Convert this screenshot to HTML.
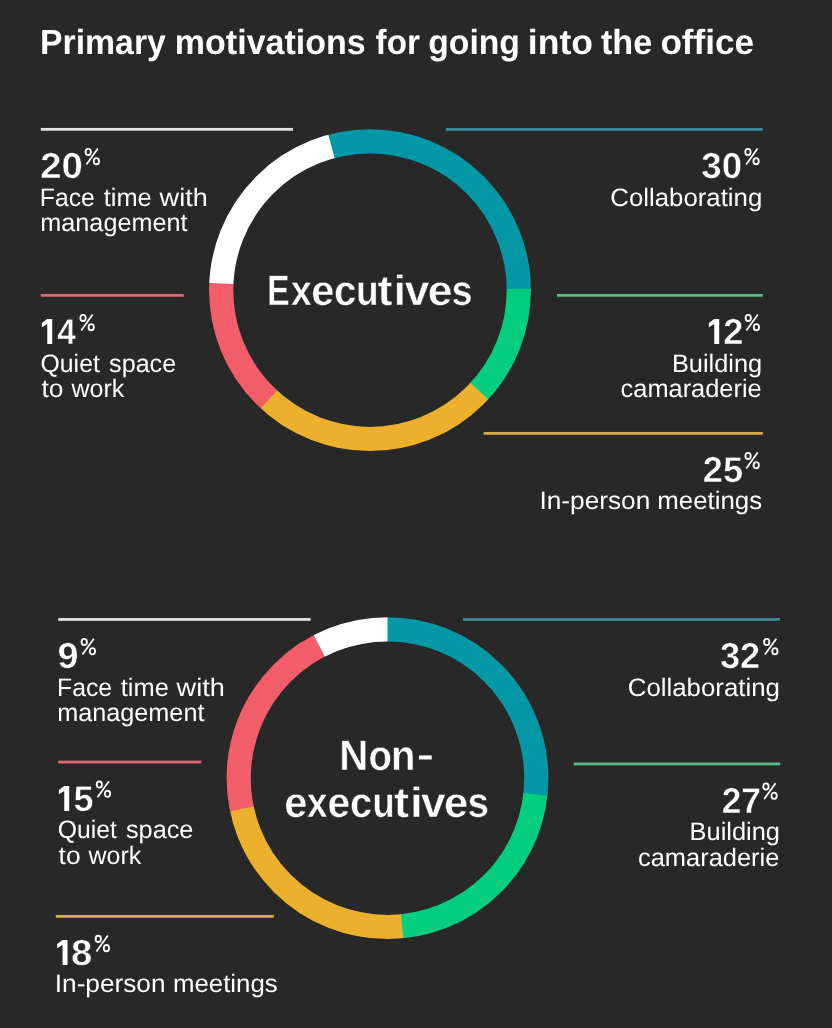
<!DOCTYPE html>
<html><head><meta charset="utf-8"><title>Primary motivations for going into the office</title>
<style>
html,body{margin:0;padding:0;background:#282828;width:832px;height:1028px;overflow:hidden}
svg{display:block}
text{font-family:"Liberation Sans",sans-serif;fill:#fff;text-rendering:geometricPrecision}
</style></head>
<body>
<svg style="will-change:transform;filter:blur(.35px)" width="832" height="1028" viewBox="0 0 832 1028">
<rect width="832" height="1028" fill="#282828"/>
<mask id="ring1" maskUnits="userSpaceOnUse" x="205.1" y="125.3" width="329.8" height="329.8"><circle cx="370" cy="290.2" r="148.80" fill="none" stroke="#fff" stroke-width="24.20"/></mask>
<g mask="url(#ring1)">
<circle cx="370" cy="290.2" r="163.9" fill="#FFFFFF"/>
<path d="M370 290.2L259.69 411.43A163.9 163.9 0 0 1 206.27 282.77Z" fill="#F15E6A"/>
<path d="M370 290.2L491.42 400.30A163.9 163.9 0 0 1 258.64 410.46Z" fill="#ECB02C"/>
<path d="M370 290.2L533.88 287.34A163.9 163.9 0 0 1 490.45 401.35Z" fill="#04CE7E"/>
<path d="M370 290.2L327.58 131.88A163.9 163.9 0 0 1 533.89 288.77Z" fill="#0498A6"/>
</g>
<mask id="ring2" maskUnits="userSpaceOnUse" x="222.6" y="613.3" width="329.8" height="329.8"><circle cx="387.5" cy="778.2" r="148.80" fill="none" stroke="#fff" stroke-width="24.20"/></mask>
<g mask="url(#ring2)">
<circle cx="387.5" cy="778.2" r="163.9" fill="#FFFFFF"/>
<path d="M387.5 778.2L227.42 813.40A163.9 163.9 0 0 1 312.45 632.49Z" fill="#F15E6A"/>
<path d="M387.5 778.2L405.06 941.16A163.9 163.9 0 0 1 227.12 812.00Z" fill="#ECB02C"/>
<path d="M387.5 778.2L550.59 794.48A163.9 163.9 0 0 1 403.64 941.30Z" fill="#04CE7E"/>
<path d="M387.5 778.2L387.50 614.30A163.9 163.9 0 0 1 550.44 795.90Z" fill="#0498A6"/>
</g>
<rect x="40.8" y="127.95" width="252.20" height="2.8" fill="#E2E2E2"/>
<rect x="40.8" y="293.95" width="143.00" height="2.8" fill="#DE686E"/>
<rect x="446" y="127.95" width="316.80" height="2.8" fill="#408A96"/>
<rect x="557" y="293.95" width="205.80" height="2.8" fill="#5AC080"/>
<rect x="483.6" y="431.95" width="279.20" height="2.8" fill="#D8AC4A"/>
<rect x="58.2" y="618.05" width="252.40" height="2.8" fill="#E2E2E2"/>
<rect x="58.2" y="760.65" width="143.10" height="2.8" fill="#DE686E"/>
<rect x="55.8" y="914.95" width="218.00" height="2.8" fill="#D8AC4A"/>
<rect x="463" y="618.05" width="317.00" height="2.8" fill="#408A96"/>
<rect x="573.8" y="762.55" width="206.40" height="2.8" fill="#5AC080"/>
<text y="54" font-size="35.0" font-weight="700"><tspan x="40.02" textLength="125.82" lengthAdjust="spacingAndGlyphs">Primary</tspan> <tspan x="174.87" textLength="190.82" lengthAdjust="spacingAndGlyphs">motivations</tspan> <tspan x="375.6" textLength="44.32" lengthAdjust="spacingAndGlyphs">for</tspan> <tspan x="428.22" textLength="91.71" lengthAdjust="spacingAndGlyphs">going</tspan> <tspan x="527.81" textLength="65.12" lengthAdjust="spacingAndGlyphs">into</tspan> <tspan x="600.91" textLength="51.34" lengthAdjust="spacingAndGlyphs">the</tspan> <tspan x="660.4" textLength="93.7" lengthAdjust="spacingAndGlyphs">office</tspan></text>
<text y="305" font-size="42.5" font-weight="700" stroke="#282828" stroke-width=".5"><tspan x="266.91" textLength="22.72" lengthAdjust="spacingAndGlyphs">E</tspan><tspan x="291.03" textLength="20.69" lengthAdjust="spacingAndGlyphs">x</tspan><tspan x="311.25" textLength="23.07" lengthAdjust="spacingAndGlyphs">e</tspan><tspan x="333.91" textLength="22.3" lengthAdjust="spacingAndGlyphs">c</tspan><tspan x="355.96" textLength="22.63" lengthAdjust="spacingAndGlyphs">u</tspan><tspan x="377.48" textLength="15.03" lengthAdjust="spacingAndGlyphs">t</tspan><tspan x="393.89" textLength="12.23" lengthAdjust="spacingAndGlyphs">i</tspan><tspan x="404.75" textLength="24.58" lengthAdjust="spacingAndGlyphs">v</tspan><tspan x="427.84" textLength="24.74" lengthAdjust="spacingAndGlyphs">e</tspan><tspan x="451.54" textLength="21.06" lengthAdjust="spacingAndGlyphs">s</tspan></text>
<text y="770" font-size="42.5" font-weight="700" stroke="#282828" stroke-width=".5"><tspan x="339.36" textLength="29.09" lengthAdjust="spacingAndGlyphs">N</tspan><tspan x="368.42" textLength="23.44" lengthAdjust="spacingAndGlyphs">o</tspan><tspan x="390.92" textLength="24.46" lengthAdjust="spacingAndGlyphs">n</tspan><tspan x="416.99" textLength="16.69" lengthAdjust="spacingAndGlyphs" y="766" font-size="33" stroke="none">-</tspan></text>
<text y="817" font-size="42.5" font-weight="700" stroke="#282828" stroke-width=".5"><tspan x="284.22" textLength="23.17" lengthAdjust="spacingAndGlyphs">e</tspan><tspan x="307.03" textLength="20.48" lengthAdjust="spacingAndGlyphs">x</tspan><tspan x="327.4" textLength="22.63" lengthAdjust="spacingAndGlyphs">e</tspan><tspan x="349.93" textLength="22.1" lengthAdjust="spacingAndGlyphs">c</tspan><tspan x="372.44" textLength="22.15" lengthAdjust="spacingAndGlyphs">u</tspan><tspan x="393.81" textLength="15.25" lengthAdjust="spacingAndGlyphs">t</tspan><tspan x="410.07" textLength="12.78" lengthAdjust="spacingAndGlyphs">i</tspan><tspan x="421.09" textLength="24.55" lengthAdjust="spacingAndGlyphs">v</tspan><tspan x="444.08" textLength="24.32" lengthAdjust="spacingAndGlyphs">e</tspan><tspan x="467.6" textLength="21.55" lengthAdjust="spacingAndGlyphs">s</tspan></text>
<text x="40.2" y="178" font-size="36.0" font-weight="700" textLength="42.71" lengthAdjust="spacingAndGlyphs" stroke="#282828" stroke-width=".5">20</text>
<text y="206" font-size="25.2" font-weight="400"><tspan x="39.79" textLength="55.04" lengthAdjust="spacingAndGlyphs">Face</tspan> <tspan x="103.78" textLength="47.99" lengthAdjust="spacingAndGlyphs">time</tspan> <tspan x="159.64" textLength="48.07" lengthAdjust="spacingAndGlyphs">with</tspan></text>
<text x="40.31" y="231" font-size="25.2" font-weight="400" textLength="147.22" lengthAdjust="spacingAndGlyphs">management</text>
<text x="57.28" y="344" font-size="36.0" font-weight="700" textLength="18.67" lengthAdjust="spacingAndGlyphs" stroke="#282828" stroke-width=".5">4</text>
<text y="372" font-size="25.2" font-weight="400"><tspan x="40.57" textLength="59.24" lengthAdjust="spacingAndGlyphs">Quiet</tspan> <tspan x="109.08" textLength="67.08" lengthAdjust="spacingAndGlyphs">space</tspan></text>
<text y="397" font-size="25.2" font-weight="400"><tspan x="41.4" textLength="22.06" lengthAdjust="spacingAndGlyphs">to</tspan> <tspan x="71.49" textLength="52.81" lengthAdjust="spacingAndGlyphs">work</tspan></text>
<text x="701.37" y="178" font-size="36.0" font-weight="700" textLength="40.79" lengthAdjust="spacingAndGlyphs" stroke="#282828" stroke-width=".5">30</text>
<text x="610.33" y="206" font-size="25.2" font-weight="400" textLength="151.92" lengthAdjust="spacingAndGlyphs">Collaborating</text>
<text x="723.15" y="344" font-size="36.0" font-weight="700" textLength="20.2" lengthAdjust="spacingAndGlyphs" stroke="#282828" stroke-width=".5">2</text>
<text x="671.96" y="372" font-size="25.2" font-weight="400" textLength="90.19" lengthAdjust="spacingAndGlyphs">Building</text>
<text x="620.57" y="397" font-size="25.2" font-weight="400" textLength="141.12" lengthAdjust="spacingAndGlyphs">camaraderie</text>
<text x="702.74" y="482" font-size="36.0" font-weight="700" textLength="40.31" lengthAdjust="spacingAndGlyphs" stroke="#282828" stroke-width=".5">25</text>
<text y="509" font-size="25.2" font-weight="400"><tspan x="539.42" textLength="110.9" lengthAdjust="spacingAndGlyphs">In-person</tspan> <tspan x="657.37" textLength="104.78" lengthAdjust="spacingAndGlyphs">meetings</tspan></text>
<text x="57.55" y="668" font-size="36.0" font-weight="700" textLength="21.07" lengthAdjust="spacingAndGlyphs" stroke="#282828" stroke-width=".5">9</text>
<text y="696" font-size="25.2" font-weight="400"><tspan x="57.04" textLength="55.01" lengthAdjust="spacingAndGlyphs">Face</tspan> <tspan x="120.75" textLength="48.04" lengthAdjust="spacingAndGlyphs">time</tspan> <tspan x="176.59" textLength="48.25" lengthAdjust="spacingAndGlyphs">with</tspan></text>
<text x="57.27" y="721" font-size="25.2" font-weight="400" textLength="147.16" lengthAdjust="spacingAndGlyphs">management</text>
<text x="73.63" y="811" font-size="36.0" font-weight="700" textLength="20.1" lengthAdjust="spacingAndGlyphs" stroke="#282828" stroke-width=".5">5</text>
<text y="838" font-size="25.2" font-weight="400"><tspan x="57.82" textLength="59.11" lengthAdjust="spacingAndGlyphs">Quiet</tspan> <tspan x="125.96" textLength="67.4" lengthAdjust="spacingAndGlyphs">space</tspan></text>
<text y="864" font-size="25.2" font-weight="400"><tspan x="58.6" textLength="22.06" lengthAdjust="spacingAndGlyphs">to</tspan> <tspan x="88.46" textLength="52.79" lengthAdjust="spacingAndGlyphs">work</tspan></text>
<text x="71.02" y="965" font-size="36.0" font-weight="700" textLength="21.36" lengthAdjust="spacingAndGlyphs" stroke="#282828" stroke-width=".5">8</text>
<text y="992" font-size="25.2" font-weight="400"><tspan x="54.77" textLength="110.79" lengthAdjust="spacingAndGlyphs">In-person</tspan> <tspan x="172.92" textLength="104.79" lengthAdjust="spacingAndGlyphs">meetings</tspan></text>
<text x="719.93" y="668" font-size="36.0" font-weight="700" textLength="40.34" lengthAdjust="spacingAndGlyphs" stroke="#282828" stroke-width=".5">32</text>
<text x="627.79" y="696" font-size="25.2" font-weight="400" textLength="152.12" lengthAdjust="spacingAndGlyphs">Collaborating</text>
<text x="721.69" y="813" font-size="36.0" font-weight="700" textLength="39.31" lengthAdjust="spacingAndGlyphs" stroke="#282828" stroke-width=".5">27</text>
<text x="689.6" y="840" font-size="25.2" font-weight="400" textLength="90.3" lengthAdjust="spacingAndGlyphs">Building</text>
<text x="638.0" y="866" font-size="25.2" font-weight="400" textLength="141.31" lengthAdjust="spacingAndGlyphs">camaraderie</text>
<text x="84.65" y="165.25" font-size="24" fill="none" style="fill:none">%</text>
<g transform="translate(84.65 147.85)" fill="none" stroke="#fff" stroke-width="1.85"><ellipse cx="3.6" cy="4.05" rx="2.65" ry="3.1"/><ellipse cx="11.75" cy="13.3" rx="2.65" ry="3.1"/><path d="M13.2 .7L1.8 16.6" stroke-width="1.75"/></g>
<text x="41.80" y="344" font-size="36" font-weight="700" fill="none" style="fill:none">1</text>
<path fill="#fff" d="M52.2 344V319.0H47.25L41.85 322.90V327.30L47.25 324.00V344Z"/>
<text x="79.45" y="331.25" font-size="24" fill="none" style="fill:none">%</text>
<g transform="translate(79.45 313.85)" fill="none" stroke="#fff" stroke-width="1.85"><ellipse cx="3.6" cy="4.05" rx="2.65" ry="3.1"/><ellipse cx="11.75" cy="13.3" rx="2.65" ry="3.1"/><path d="M13.2 .7L1.8 16.6" stroke-width="1.75"/></g>
<text x="744.35" y="165.25" font-size="24" fill="none" style="fill:none">%</text>
<g transform="translate(744.35 147.85)" fill="none" stroke="#fff" stroke-width="1.85"><ellipse cx="3.6" cy="4.05" rx="2.65" ry="3.1"/><ellipse cx="11.75" cy="13.3" rx="2.65" ry="3.1"/><path d="M13.2 .7L1.8 16.6" stroke-width="1.75"/></g>
<text x="708.80" y="344" font-size="36" font-weight="700" fill="none" style="fill:none">1</text>
<path fill="#fff" d="M719.2 344V319.0H714.25L708.85 322.90V327.30L714.25 324.00V344Z"/>
<text x="744.65" y="331.25" font-size="24" fill="none" style="fill:none">%</text>
<g transform="translate(744.65 313.85)" fill="none" stroke="#fff" stroke-width="1.85"><ellipse cx="3.6" cy="4.05" rx="2.65" ry="3.1"/><ellipse cx="11.75" cy="13.3" rx="2.65" ry="3.1"/><path d="M13.2 .7L1.8 16.6" stroke-width="1.75"/></g>
<text x="744.45" y="469.25" font-size="24" fill="none" style="fill:none">%</text>
<g transform="translate(744.45 451.85)" fill="none" stroke="#fff" stroke-width="1.85"><ellipse cx="3.6" cy="4.05" rx="2.65" ry="3.1"/><ellipse cx="11.75" cy="13.3" rx="2.65" ry="3.1"/><path d="M13.2 .7L1.8 16.6" stroke-width="1.75"/></g>
<text x="80.65" y="655.35" font-size="24" fill="none" style="fill:none">%</text>
<g transform="translate(80.65 637.95)" fill="none" stroke="#fff" stroke-width="1.85"><ellipse cx="3.6" cy="4.05" rx="2.65" ry="3.1"/><ellipse cx="11.75" cy="13.3" rx="2.65" ry="3.1"/><path d="M13.2 .7L1.8 16.6" stroke-width="1.75"/></g>
<text x="58.80" y="811" font-size="36" font-weight="700" fill="none" style="fill:none">1</text>
<path fill="#fff" d="M69.2 811V786.0H64.25L58.85 789.90V794.30L64.25 791.00V811Z"/>
<text x="95.75" y="797.95" font-size="24" fill="none" style="fill:none">%</text>
<g transform="translate(95.75 780.55)" fill="none" stroke="#fff" stroke-width="1.85"><ellipse cx="3.6" cy="4.05" rx="2.65" ry="3.1"/><ellipse cx="11.75" cy="13.3" rx="2.65" ry="3.1"/><path d="M13.2 .7L1.8 16.6" stroke-width="1.75"/></g>
<text x="57.10" y="965" font-size="36" font-weight="700" fill="none" style="fill:none">1</text>
<path fill="#fff" d="M67.5 965V940.0H62.55L57.15 943.90V948.30L62.55 945.00V965Z"/>
<text x="94.65" y="952.25" font-size="24" fill="none" style="fill:none">%</text>
<g transform="translate(94.65 934.85)" fill="none" stroke="#fff" stroke-width="1.85"><ellipse cx="3.6" cy="4.05" rx="2.65" ry="3.1"/><ellipse cx="11.75" cy="13.3" rx="2.65" ry="3.1"/><path d="M13.2 .7L1.8 16.6" stroke-width="1.75"/></g>
<text x="763.15" y="655.35" font-size="24" fill="none" style="fill:none">%</text>
<g transform="translate(763.15 637.95)" fill="none" stroke="#fff" stroke-width="1.85"><ellipse cx="3.6" cy="4.05" rx="2.65" ry="3.1"/><ellipse cx="11.75" cy="13.3" rx="2.65" ry="3.1"/><path d="M13.2 .7L1.8 16.6" stroke-width="1.75"/></g>
<text x="762.35" y="799.85" font-size="24" fill="none" style="fill:none">%</text>
<g transform="translate(762.35 782.45)" fill="none" stroke="#fff" stroke-width="1.85"><ellipse cx="3.6" cy="4.05" rx="2.65" ry="3.1"/><ellipse cx="11.75" cy="13.3" rx="2.65" ry="3.1"/><path d="M13.2 .7L1.8 16.6" stroke-width="1.75"/></g>
</svg>
</body></html>
